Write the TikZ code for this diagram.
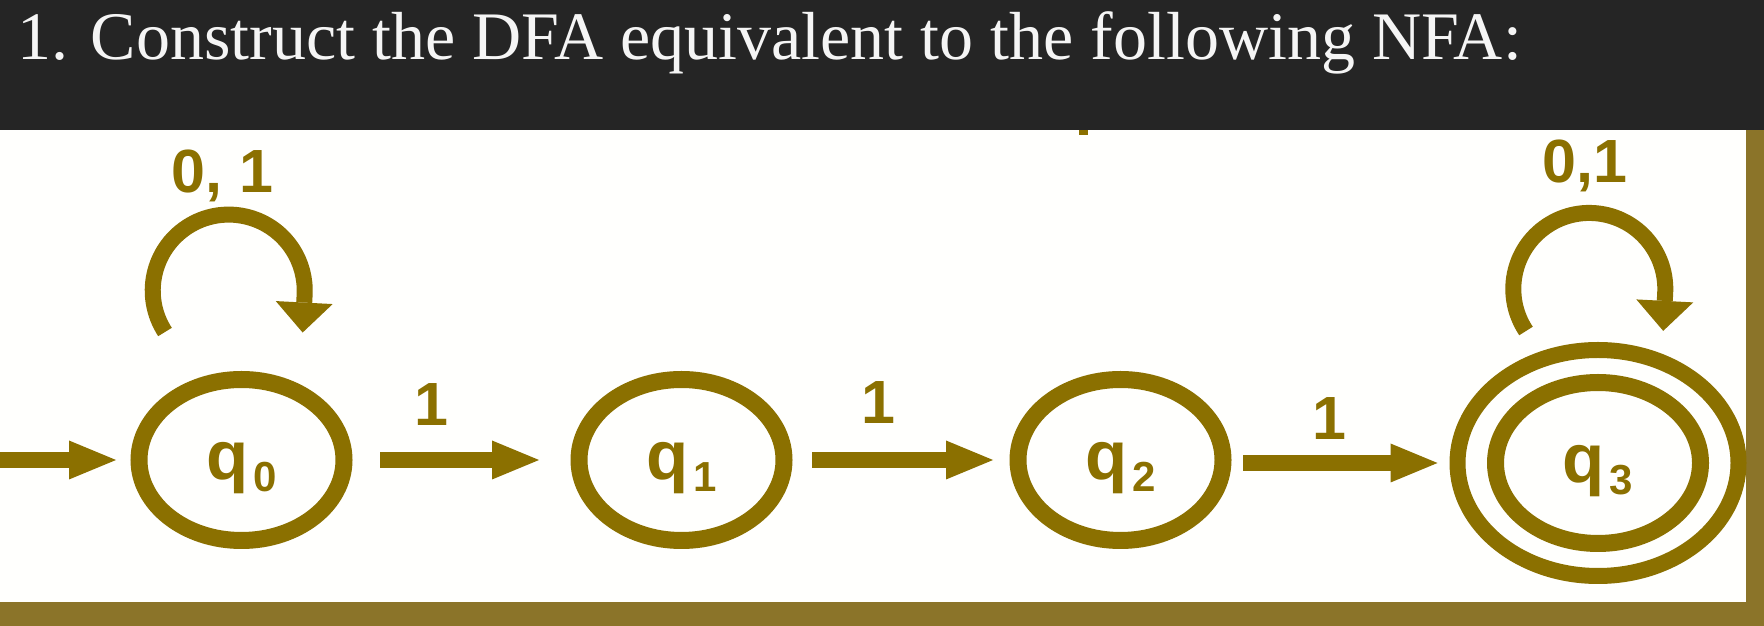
\documentclass[tikz,border=0pt]{standalone}
\usepackage{fontspec}
\setmainfont{Liberation Serif}
\newfontfamily\symfont{Liberation Sans}
\usetikzlibrary{arrows.meta, shapes.geometric}

\definecolor{nfagold}{HTML}{8B7000}
\definecolor{bargold}{HTML}{8B7429}
\definecolor{headbar}{HTML}{252525}
\definecolor{paper}{HTML}{FFFFFD}

\newcommand{\qname}[1]{q\kern5pt\raisebox{-12pt}{\fontsize{42}{42}\selectfont #1}}

\tikzset{
  nfastate/.style={ellipse, draw=nfagold, line width=17pt, minimum width=205pt, minimum height=161pt,
    inner sep=0pt, outer sep=0pt, text=nfagold, text height=52pt, text depth=13pt,
    font=\symfont\bfseries\fontsize{69}{69}\selectfont},
  trans/.style={draw=nfagold, line width=16pt, -{Triangle[length=47pt,width=39pt,line width=0pt]}},
  selftrans/.style={draw=nfagold, line width=16pt, -{Triangle[length=30pt,width=57pt,line width=0pt]}},
  sym/.style={text=nfagold, inner sep=0pt, font=\symfont\bfseries\fontsize{61}{61}\selectfont},
}

\begin{document}
\begin{tikzpicture}[x=1pt, y=1pt]
    \useasboundingbox (0,0) rectangle (1764,626);
    \fill[paper] (0,0) rectangle (1764,626);
    \fill[headbar] (0,496) rectangle (1764,626);
    \fill[bargold] (0,0) rectangle (1764,24);
    \fill[bargold] (1746,0) rectangle (1764,496);
    \fill[nfagold] (1079,491) rectangle (1088,496);
    \node[anchor=base west, inner sep=0pt, text=white!96!black, font=\fontsize{68}{68}\selectfont] (title) at (17,566)
        {1. Construct the DFA equivalent to the following NFA:};

    % states
    \node[nfastate] (q0) at (241.5,166) {\qname{0}};
    \node[nfastate] (q1) at (681.5,166) {\qname{1}};
    \node[nfastate] (q2) at (1120.5,166) {\qname{2}};
    \node[nfastate] (q3) at (1598,163) {\qname{3}};
    \draw[nfagold, line width=16pt] (q3.center) ellipse[x radius=140.5pt, y radius=113pt];

    % transitions
    \coordinate (init) at (0,166);
    \draw[trans, shorten >=23pt] (init) -- (q0);
    \draw[trans, shorten <=36pt, shorten >=40pt] (q0) -- node[sym, pos=0.373, anchor=base, yshift=34pt] {1} (q1);
    \draw[trans, shorten <=28pt, shorten >=25pt] (q1) -- node[sym, pos=0.405, anchor=base, yshift=36pt] {1} (q2);
    \draw[trans, shorten <=20pt, shorten >=58pt] (q2.east |- q3) -- node[sym, pos=0.39, anchor=base, yshift=23.5pt] {1} (q3);

    % self loops
    \draw[selftrans] ([shift={(-76.5pt,128pt)}]q0.center) arc[start angle=213, end angle=-3, radius=76pt] -- ++(-93:38pt);
    \node[sym, anchor=base] (loop0) at (222.5,433) {0, 1};
    \draw[selftrans] ([shift={(-72pt,132pt)}]q3.center) arc[start angle=213.6, end angle=-3, radius=76pt] -- ++(-93:38pt);
    \node[sym, anchor=base] (loop3) at (1585,443) {0,1};
\end{tikzpicture}
\end{document}
